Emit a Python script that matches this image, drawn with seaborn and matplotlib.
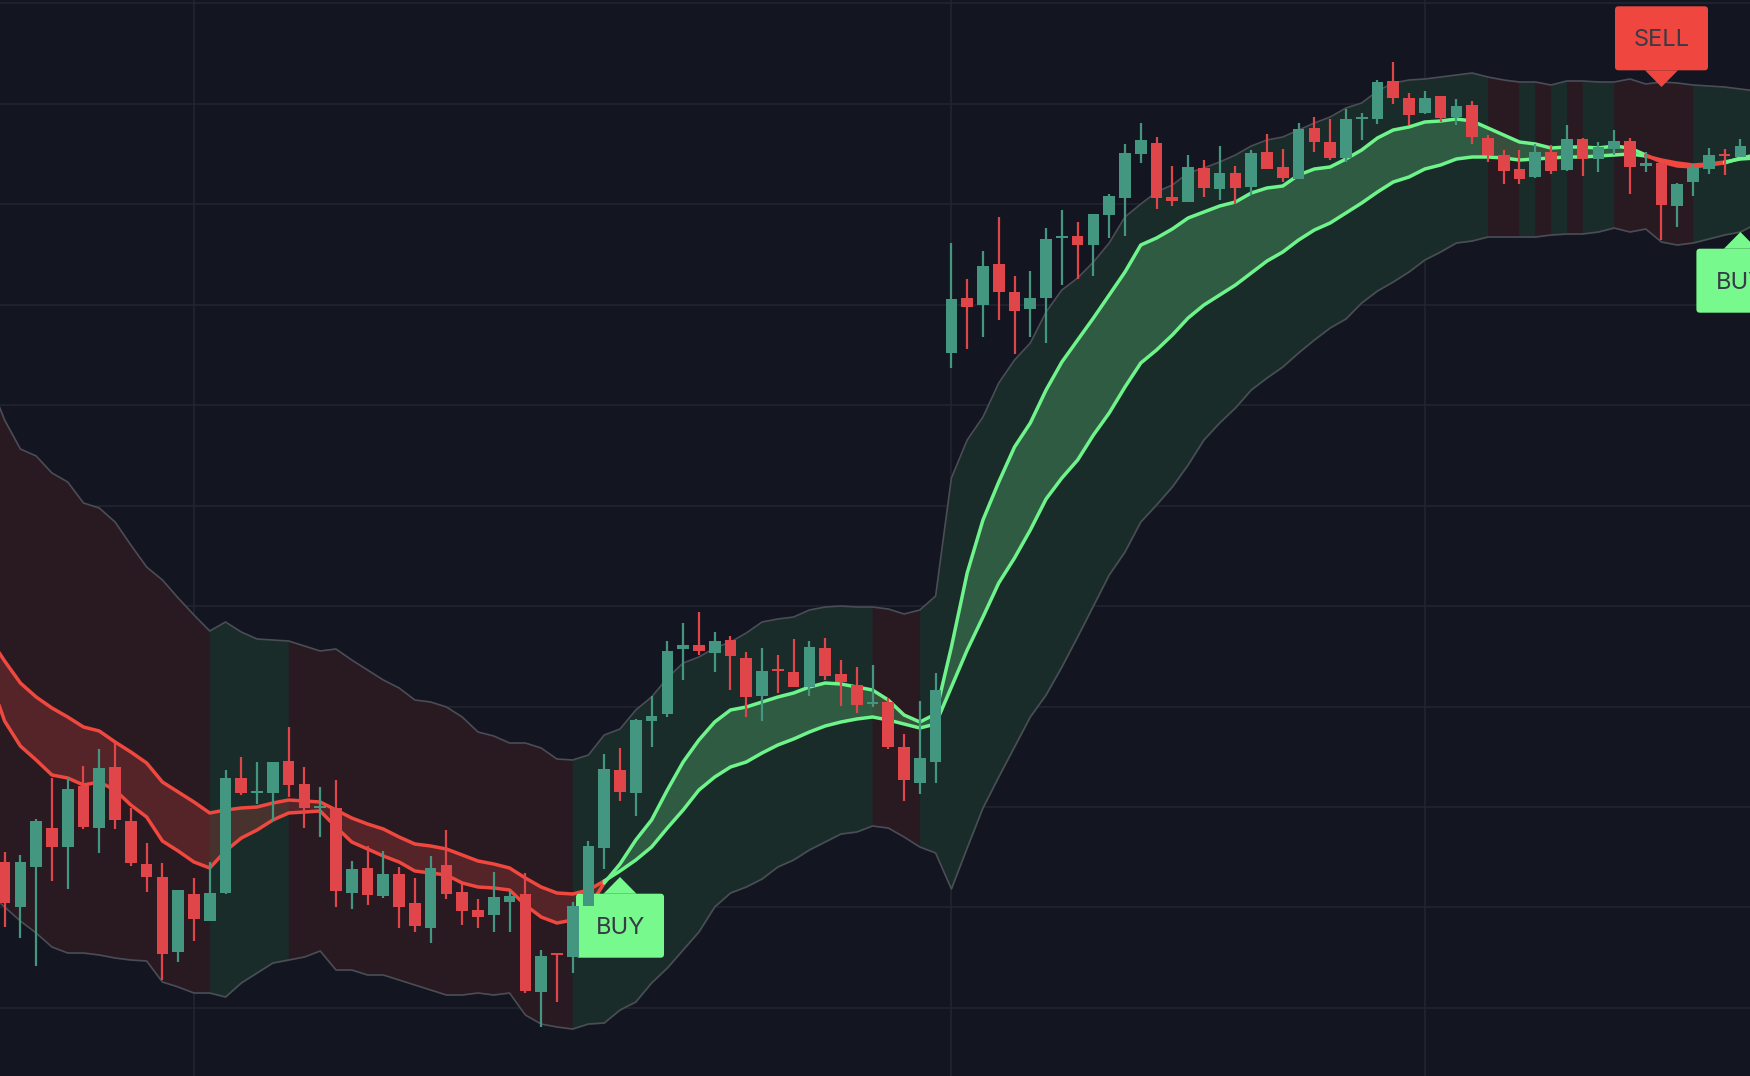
import numpy as np
import matplotlib
matplotlib.use("Agg")
import matplotlib.pyplot as plt
from matplotlib.patches import FancyBboxPatch, Polygon
import seaborn as sns

# price units: chart pixels counted up from the bottom edge
# candles, bars 0..110
opens = [213.7, 168.7, 209.3, 247.7, 229.3, 290.3, 248.3, 308.7, 255, 211.7,
         198.7, 124.3, 182, 155.3, 182.7, 297.7, 283.3, 283.3, 314.7, 291.7,
         267.7, 268, 182.7, 208, 180, 201.7, 172.7, 147.7, 210.7, 183.7,
         166, 161.3, 174.3, 182, 84.3, 121.7, 119.3, 170, 228.3, 306,
         283.3, 354.7, 362, 427.3, 430.7, 423.3, 436, 417.7, 380, 406,
         403.7, 389.3, 427.7, 401.7, 390.7, 372, 374, 328.7, 293.3, 314.3,
         723.3, 777.7, 771, 811.7, 784.3, 767, 778.3, 838.3, 840, 831,
         861, 878.3, 922.3, 932.7, 878.7, 874.3, 907.7, 887, 902.7, 889.3,
         923.7, 908.7, 897.3, 947.7, 933.7, 918.3, 957.3, 957.3, 995, 978.3,
         962.7, 980, 958.7, 971, 938.3, 921, 907, 899.3, 924, 906,
         937, 916.7, 927, 935, 910.3, 913.3, 870.3, 894.3, 907.3, 922,
         919.3]
highs = [223.7, 220.7, 257, 298.3, 298.3, 310, 327, 333.3, 267.7, 232.7,
         212.7, 185.7, 197.7, 213.7, 306, 319, 313.7, 313.7, 348.7, 308.7,
         288.7, 295.7, 215, 230, 224.7, 209.3, 198, 220, 246, 192,
         177, 203.7, 185.3, 202.7, 126, 121.7, 174, 235.3, 322, 327.7,
         356.7, 380, 435, 452.7, 464, 443.7, 440, 424, 427.7, 420.7,
         436.7, 435, 437.7, 415.7, 408.7, 410.7, 377.7, 341.7, 374.7, 402.7,
         832.7, 796.7, 825, 858.7, 800, 805, 848.3, 866, 854, 861.7,
         882, 931.7, 952.7, 938.7, 910, 921, 916, 930, 910, 926,
         942, 927, 952.7, 959, 957, 967, 962.7, 996, 1014, 982.7,
         985, 980, 977, 975, 941, 926, 926, 932, 930.7, 951,
         938.3, 933.7, 946, 938.3, 924.3, 913.3, 893.3, 912, 928, 927,
         937]
lows = [149.3, 137.7, 110.3, 195.3, 187.3, 247.3, 222.7, 246.7, 210.3, 184.3,
        96, 113.7, 135.3, 155.3, 182, 281, 272, 255.3, 279.3, 248.3,
        239.3, 168.7, 166.7, 170.7, 177.7, 148.3, 144.3, 132.7, 176.7, 151,
        148.3, 144.3, 144.3, 82.7, 48.7, 74.3, 103.3, 170, 207.3, 275.3,
        260.3, 329.3, 359.3, 396, 421, 404.3, 386, 359.3, 355.3, 382.7,
        389.3, 380.3, 396, 370, 363.3, 369.3, 327.3, 275.3, 282.3, 293.3,
        708.3, 727, 739.3, 756, 721.7, 739.3, 733.3, 791, 796.7, 800,
        838.3, 840.3, 912.7, 867, 870, 874.3, 879.3, 876, 872, 881,
        907.3, 894.3, 897.3, 924, 916, 914.3, 936, 952, 972, 951,
        962, 954.3, 951, 932, 914.3, 892, 892, 897.7, 902, 905.3,
        900.3, 903.7, 921, 881.7, 904.3, 836, 849.3, 880, 902, 901,
        919.3]
closes = [173.3, 213.7, 255, 229.3, 286.7, 248.7, 307.7, 256.3, 212.7, 198.7,
          121.7, 185.7, 156.7, 182.7, 297.7, 282.7, 284.3, 313.7, 291, 268.3,
          268.7, 185.3, 206.7, 181.3, 202, 168.7, 150.3, 208, 182, 165.3,
          159.3, 178.7, 180, 85.3, 120, 120.7, 170, 230, 306.7, 284.3,
          356, 360, 425, 430.7, 425.3, 435, 420.3, 379.3, 405, 404.7,
          389.3, 428.7, 400.3, 393.7, 371, 373.3, 329.3, 296, 317.7, 386,
          777, 769.3, 810.3, 784.3, 765.3, 777.7, 836.7, 840, 831, 861.7,
          880, 922.7, 935.7, 878.3, 875.3, 908.7, 887.7, 902.7, 888.3, 922.7,
          907.3, 898.3, 946.7, 934.3, 918.3, 957, 958.7, 994, 978.3, 961,
          978.3, 957.7, 970, 939.3, 921, 905, 897, 924, 905.3, 937,
          916.7, 929.3, 935, 909.3, 912.7, 871, 892.3, 909.3, 921, 920,
          930.3]

# indicator lines, bars -1..111 (one bar either side of the visible candles)
upper_band = [696, 656, 627, 620, 603, 594, 573, 568, 554, 531, 509, 496, 478, 461,
              445, 454, 444, 437, 436, 435, 430, 425, 427, 416, 406, 396, 388, 376,
              374, 369, 359, 344, 340, 333, 333, 328, 317, 316, 321, 341, 347, 366,
              379, 398, 413, 419, 428, 434, 443, 454, 457, 459, 466, 469, 470, 469,
              469, 467, 462, 466, 480, 598, 636, 659, 693, 716, 733, 764, 786, 798,
              814, 833, 859, 872, 884, 891, 903, 908, 914, 921, 930, 936, 939, 946,
              953, 959, 968, 973, 985, 993, 996, 997, 999, 1001, 1003, 999, 996, 994,
              994, 991, 995, 995, 994, 994, 997, 992, 994, 993, 991, 990, 989, 987,
              985]
lower_band = [183, 169, 155, 143, 129, 123, 123, 121, 118, 116, 115, 94, 89, 83,
              83, 79, 93, 103, 113, 116, 119, 125, 106, 106, 101, 101, 96, 91,
              86, 81, 81, 83, 81, 83, 61, 52, 49, 47, 52, 53, 66, 74,
              93, 108, 126, 144, 169, 183, 189, 197, 209, 216, 226, 234, 242, 244,
              250, 248, 239, 229, 223, 187, 228, 268, 299, 329, 359, 381, 409, 439,
              470, 501, 524, 554, 571, 589, 611, 636, 653, 668, 686, 698, 709, 723,
              736, 748, 757, 773, 785, 794, 804, 816, 824, 833, 835, 839, 839, 839,
              839, 841, 842, 842, 844, 848, 844, 847, 834, 831, 833, 837, 841, 844,
              852]
fast_ma = [400, 355, 330, 316, 301, 298, 291, 294, 286, 271, 259, 235, 225, 214,
           208, 225, 238, 246, 256, 263, 264, 265, 249, 234, 227, 220, 214, 205,
           203, 201, 193, 189, 188, 186, 171, 159, 153, 156, 168, 193, 212, 236,
           256, 286, 314, 336, 354, 366, 369, 374, 379, 383, 389, 393, 392, 389,
           386, 376, 361, 354, 362, 429, 503, 556, 594, 629, 653, 686, 714, 736,
           758, 781, 804, 831, 838, 847, 858, 864, 870, 874, 883, 888, 890, 901,
           907, 909, 917, 926, 938, 946, 949, 954, 955, 957, 955, 948, 941, 934,
           932, 928, 929, 929, 928, 930, 928, 921, 914, 910, 909, 911, 913, 918,
           921]
slow_ma = [439, 415, 393, 379, 368, 359, 349, 345, 334, 324, 313, 294, 284, 274,
           263, 266, 268, 269, 273, 276, 275, 274, 266, 258, 252, 247, 239, 232,
           230, 227, 221, 215, 212, 208, 198, 189, 183, 182, 186, 195, 205, 216,
           229, 248, 266, 286, 299, 309, 314, 323, 331, 337, 344, 350, 354, 357,
           359, 356, 352, 348, 352, 389, 426, 459, 493, 518, 546, 577, 598, 616,
           641, 663, 689, 713, 726, 741, 758, 771, 781, 791, 803, 815, 824, 836,
           846, 853, 863, 873, 884, 894, 899, 907, 911, 917, 919, 919, 918, 916,
           917, 918, 919, 919, 920, 921, 922, 920, 916, 913, 911, 912, 914, 917,
           918]

# (text, bar, price at the arrow tip)
signals = [("BUY", 39, 199), ("SELL", 105, 989), ("BUY", 110, 844)]
vgrid_bars = [12, 60, 90]

bg = "#131620"
grid_col = "#21252f"
teal = "#43967f"
red = "#e0454a"
band_line = "#4a4d56"
band_red = "#291a22"
band_green = "#1a2c2a"
ma_red = "#f0483f"
ma_green = "#6ef48b"
label_green = "#77f98e"
label_red = "#ef463f"

sns.set_theme(style="dark", rc={"axes.facecolor": bg, "figure.facecolor": bg})
plt.rcParams["font.family"] = ["Inter", "DejaVu Sans"]

o = np.array(opens); h = np.array(highs); l = np.array(lows); c = np.array(closes)
up_b = np.array(upper_band); lo_b = np.array(lower_band)
fast = np.array(fast_ma); slow = np.array(slow_ma)
bars = np.arange(len(c))
xs = np.arange(-1, len(up_b) - 1)
assert len(up_b) == len(lo_b) == len(fast) == len(slow) == len(c) + 2

px_per_bar = 15.78

fig = plt.figure(figsize=(17.5, 10.76), dpi=100)
ax = fig.add_axes([0, 0, 1, 1])
ax.set_xlim(-4.6 / px_per_bar, (1750 - 4.6) / px_per_bar)
ax.set_ylim(0, 1076)
ax.set_yticks(np.arange(68.15, 1075, 100.45))
ax.set_xticks(vgrid_bars)
ax.grid(True, color=grid_col, lw=1.2)
ax.tick_params(length=0, labelleft=False, labelbottom=False)
for s in ax.spines.values():
    s.set_visible(False)


def runs(flags):
    out = []
    start = 0
    for k in range(1, len(flags) + 1):
        if k == len(flags) or flags[k] != flags[start]:
            out.append((start, k - 1, flags[start]))
            start = k
    return out


# band fill: price above slow average -> green, else red
# (segment i-1 -> i takes the colour of bar i; the off-screen bar keeps the last one)
regime = list(c > slow[1:-1])
regime.append(regime[-1])
for a, b, flag in runs(regime):
    sl = slice(a, b + 2)
    col = band_green if flag else band_red
    ax.fill_between(xs[sl], lo_b[sl], up_b[sl], color=col, lw=0.6, edgecolor=col, zorder=1)

sns.lineplot(x=xs, y=up_b, ax=ax, color=band_line, lw=1.2, estimator=None, sort=False, zorder=3)
sns.lineplot(x=xs, y=lo_b, ax=ax, color=band_line, lw=1.2, estimator=None, sort=False, zorder=3)

# moving averages, coloured by fast vs slow
trend = list(fast[1:] > slow[1:])
for a, b, flag in runs(trend):
    sl = slice(a, b + 2)
    col = ma_green if flag else ma_red
    ax.fill_between(xs[sl], fast[sl], slow[sl], color=col, alpha=0.24 if flag else 0.22,
                    lw=0, zorder=2)
    ax.plot(xs[sl], fast[sl], color=col, lw=2.5, zorder=4, solid_joinstyle="round")
    ax.plot(xs[sl], slow[sl], color=col, lw=2.5, zorder=4, solid_joinstyle="round")

# signal labels
for text, bar, price in signals:
    box_w = (93 if text == "SELL" else 88) / px_per_bar
    box_h, tip_h, tip_w = 64, 16.7, 33 / px_per_bar
    if text == "BUY":
        col = label_green
        box_top = price - tip_h
        box_bot = box_top - box_h
        base = box_top
    else:
        col = label_red
        box_bot = price + tip_h
        base = box_bot
    ax.add_patch(FancyBboxPatch((bar - box_w / 2, box_bot), box_w, box_h,
                                boxstyle="round,pad=0,rounding_size=0.22",
                                mutation_aspect=px_per_bar, fc=col, ec="none", zorder=5))
    ax.add_patch(Polygon([(bar - tip_w / 2, base), (bar + tip_w / 2, base), (bar, price)],
                         closed=True, fc=col, ec="none", zorder=5))
    ax.text(bar, box_bot + box_h / 2 - 2, text, ha="center", va="center", fontsize=17,
            color="#383b45", zorder=6, clip_on=True)

# candles
is_up = c >= o
cols = np.where(is_up, teal, red)
ax.vlines(bars, l, h, colors=cols, lw=1.6, zorder=7)
body_h = np.maximum(np.abs(c - o), 2.0)
body_bot = np.minimum(o, c)
ax.bar(bars, body_h, bottom=body_bot, width=0.74, color=cols, linewidth=0, zorder=8)

fig.savefig("out.png", dpi=100, facecolor=bg)
